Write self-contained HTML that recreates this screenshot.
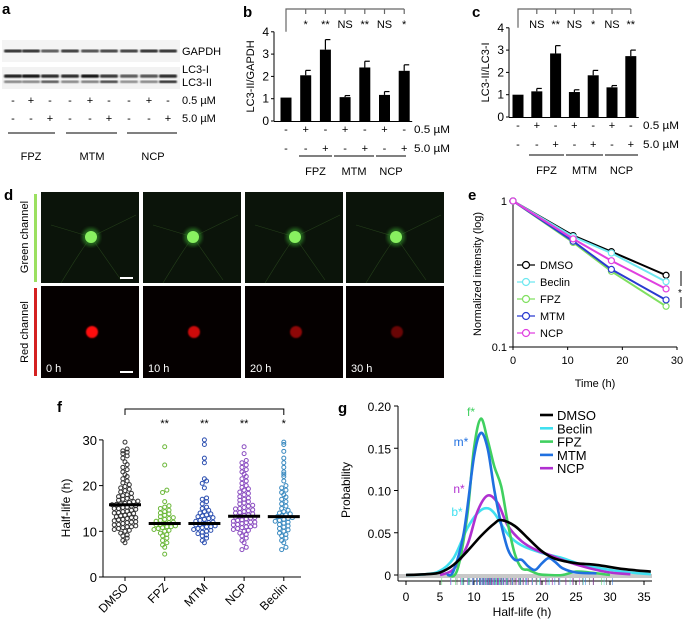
<!DOCTYPE html>
<html><head><meta charset="utf-8"><style>
html,body{margin:0;padding:0;background:#fff}
svg{display:block;font-family:"Liberation Sans Narrow","Liberation Sans",sans-serif}
</style></head><body>
<svg id="fig" width="685" height="621" viewBox="0 0 685 621" xmlns="http://www.w3.org/2000/svg">
<defs>
<filter id="blur1"><feGaussianBlur stdDeviation="0.8"/></filter>
<filter id="blur2"><feGaussianBlur stdDeviation="1.6"/></filter>
</defs>
<g id="pa"></g>
<g id="pb"></g>
<g id="pc"></g>
<g id="pd"></g>
<g id="pe"></g>
<g id="pf"></g>
<g id="pg"></g>
</svg>
<script>
// ---------- data ----------
const bValues=[1.05,2.05,3.2,1.07,2.4,1.17,2.25];
const bErrors=[0,0.22,0.45,0.07,0.28,0.15,0.27];
const bStars=["*","**","NS","**","NS","*"];
const cValues=[1.0,1.15,2.85,1.12,1.87,1.33,2.73];
const cErrors=[0,0.13,0.35,0.1,0.22,0.08,0.27];
const cStars=["NS","**","NS","*","NS","**"];
const signsLow=["-","+","-","+","-","+","-"];
const signsHigh=["-","-","+","-","+","-","+"];
const barTicks=[0,1,2,3,4];
const eTimes=[0,11,18,28];
const eNames=["DMSO","Beclin","FPZ","MTM","NCP"];
const eDMSO=[1,0.58,0.45,0.31];
const eBeclin=[1,0.57,0.44,0.28];
const eFPZ=[1,0.52,0.33,0.19];
const eMTM=[1,0.53,0.34,0.21];
const eNCP=[1,0.55,0.39,0.25];
const eXTicks=[0,10,20,30];
const fCats=["DMSO","FPZ","MTM","NCP","Beclin"];
const fStars=["**","**","**","*"];
const fMedians=[15.8,11.7,11.7,13.3,13.2];
const fTicks=[0,10,20,30];
const fDMSO=[7.5,8,8.5,9,9.2,9.6,10,10.2,10.4,10.6,10.8,11,11,11.2,11.4,11.5,11.7,11.9,12,12.1,12.3,12.5,12.6,12.8,13,13,13.2,13.4,13.5,13.7,13.9,14,14.1,14.3,14.4,14.6,14.8,15,15,15.2,15.3,15.5,15.6,15.8,15.9,16,16.1,16.3,16.5,16.6,16.8,17,17.2,17.4,17.6,17.8,18,18.3,18.6,18.9,19.2,19.5,19.8,20.2,20.6,21,21.5,22,22.4,23,23.5,24,24.6,25.2,26,26.5,27,27.3,27.6,28,29.5];
const fFPZ=[5,6.5,7,7.5,8,8.5,9,9.3,9.6,10,10.2,10.4,10.6,10.8,11,11,11.2,11.4,11.5,11.7,11.9,12,12.2,12.4,12.6,12.8,13,13.2,13.5,13.8,14,14.3,14.6,15,15.3,15.6,16.5,18.5,19,24.5,28.5];
const fMTM=[7.5,8,8.5,9,9.2,9.5,9.8,10,10.2,10.4,10.6,10.8,11,11,11.2,11.4,11.5,11.7,11.9,12,12.2,12.4,12.6,12.8,13,13.2,13.4,13.6,13.8,14,14.3,14.6,15,15.3,16,16.5,17,17.3,19.5,20.5,21,21.5,25,26,29,30];
const fNCP=[6,6.5,7.5,8,8.5,9,9.3,9.6,10,10.2,10.4,10.6,10.8,11,11,11.2,11.4,11.5,11.7,11.9,12,12,12.2,12.4,12.5,12.7,12.9,13,13.1,13.3,13.5,13.6,13.8,14,14.1,14.3,14.5,14.7,14.9,15,15.2,15.5,15.7,16,16.2,16.5,16.8,17,17.3,17.6,18,18.3,18.6,19,19.3,19.6,20,20.5,21,21.5,22,22.5,23,23.5,24,24.5,25,25.5,27,28.5];
const fBeclin=[6,6.5,7.5,8,8.5,9,9.3,9.6,10,10.3,10.6,10.9,11.2,11.5,11.8,12,12.2,12.4,12.6,12.8,13,13.2,13.4,13.6,13.8,14,14.3,14.6,15,15.5,16,16.5,17,17.5,18,18.5,19,19.5,20,21,22,22.5,23,24,25,26,27.5,29,29.5];
const gNames=["DMSO","Beclin","FPZ","MTM","NCP"];
const gXTicks=[0,5,10,15,20,25,30,35];
const gYTicks=["0","0.05","0.10","0.15","0.20"];
const gDMSOx=[0,3,5,7,9,11,13,14,16,18,20,22,25,28,32,36];
const gDMSOy=[0,0.001,0.003,0.012,0.028,0.046,0.061,0.065,0.058,0.043,0.028,0.019,0.014,0.012,0.007,0.004];
const gBeclinx=[0,3,5,7,9,10.5,11.8,13,15,17,20,23,26,30,33,36];
const gBecliny=[0,0.001,0.005,0.02,0.055,0.073,0.079,0.073,0.048,0.035,0.026,0.02,0.012,0.006,0.003,0.001];
const gFPZx=[6,7.5,9,10,11,12,13,14,15,16,17,18,19.5,21,23,25,27,30];
const gFPZy=[0,0.005,0.07,0.15,0.185,0.16,0.128,0.105,0.06,0.025,0.008,0.006,0.001,0,0,0.004,0.003,0];
const gMTMx=[6,7,8.5,10,11,12,13,14,15,16,17,18,19,20,21,22,23,25,28];
const gMTMy=[0,0.005,0.05,0.14,0.168,0.15,0.1,0.06,0.03,0.018,0.018,0.01,0.006,0.014,0.02,0.015,0.008,0.003,0.002];
const gNCPx=[5,7,9,10.5,12,13.5,15,17,19,21,24,27,30,33];
const gNCPy=[0,0.007,0.035,0.075,0.094,0.085,0.058,0.04,0.03,0.024,0.015,0.008,0.003,0.001];

// ---------- helpers ----------
const NS="http://www.w3.org/2000/svg";
function mk(parent,tag,attrs,txt){const e=document.createElementNS(NS,tag);for(const k in attrs)e.setAttribute(k,attrs[k]);if(txt!==undefined)e.textContent=txt;parent.appendChild(e);return e;}
function smooth(pts){let d="M"+pts[0][0]+","+pts[0][1];for(let i=0;i<pts.length-1;i++){const p0=pts[Math.max(0,i-1)],p1=pts[i],p2=pts[i+1],p3=pts[Math.min(pts.length-1,i+2)];const c1=[p1[0]+(p2[0]-p0[0])/6,p1[1]+(p2[1]-p0[1])/6],c2=[p2[0]-(p3[0]-p1[0])/6,p2[1]-(p3[1]-p1[1])/6];d+=" C"+c1[0].toFixed(1)+","+c1[1].toFixed(1)+" "+c2[0].toFixed(1)+","+c2[1].toFixed(1)+" "+p2[0].toFixed(1)+","+p2[1].toFixed(1);}return d;}
const FS=11;

// ---------- panel a ----------
(function(){const g=document.getElementById('pa');
let t=mk(g,'text',{x:2,y:14,'font-size':15,'font-weight':'bold','font-family':'Liberation Sans'},'a');


const lanes=[13,31,50,70,90,109,129,149,168];
const gap=[1,1,0.6,0.9,0.7,0.8,0.85,1,1];
const l1=[1,1.1,0.9,0.9,1.1,0.8,0.5,0.55,0.9];
const l2=[0.4,0.4,0.7,0.4,0.45,0.8,0.35,0.4,0.95];
mk(g,'rect',{x:2,y:40,width:178,height:22,fill:'#f4f4f4'});
mk(g,'rect',{x:2,y:67,width:178,height:22,fill:'#f2f2f2'});
lanes.forEach((x,i)=>{
 let b=mk(g,'rect',{x:x-9,y:49.5,width:18,height:3,rx:1.5,fill:'#222',opacity:0.45+0.5*gap[i],filter:'url(#blur1)'});
 
 
 let c=mk(g,'rect',{x:x-9,y:74.5,width:18,height:3.2,rx:1.5,fill:'#111',opacity:Math.min(1,0.4+0.55*l1[i]),filter:'url(#blur1)'});
 
 
 let d=mk(g,'rect',{x:x-9,y:80.5,width:18,height:2.6,rx:1.3,fill:'#111',opacity:0.2+0.7*l2[i],filter:'url(#blur1)'});
 
 
 const lo=["-","+","-","-","+","-","-","+","-"][i],hi=["-","-","+","-","-","+","-","-","+"][i];
 mk(g,'text',{x:x,y:104,'font-size':FS,'text-anchor':'middle'},lo);
 mk(g,'text',{x:x,y:122,'font-size':FS,'text-anchor':'middle'},hi);
});
[["GAPDH",55],["LC3-I",73],["LC3-II",86]].forEach(a=>{let e=mk(g,'text',{x:182,y:a[1],'font-size':FS},a[0]);});
mk(g,'text',{x:182,y:104,'font-size':FS},'0.5 µM');
mk(g,'text',{x:182,y:122,'font-size':FS},'5.0 µM');
[[8,55,31,'FPZ'],[66,117,92,'MTM'],[127,177,153,'NCP']].forEach(a=>{mk(g,'line',{x1:a[0],x2:a[1],y1:133,y2:133,stroke:'#000','stroke-width':1});let e=mk(g,'text',{x:a[2],y:160,'font-size':FS,'text-anchor':'middle'},a[3]);});
})();

// ---------- panels b & c ----------
function barPanel(id,lab,labX,axX,y0,unit,x0,step,vals,errs,stars,ytitle,sigX,groups,labs){
 const g=document.getElementById(id);
 const ys=v=>y0-v*unit, xs=i=>x0+i*step;
 let t=mk(g,'text',{x:labX,y:17,'font-size':15,'font-weight':'bold','font-family':'Liberation Sans'},lab);
 
 
 let ax=mk(g,'line',{x1:axX,x2:axX,y1:ys(4),y2:y0,stroke:'#000'});
 
 
 mk(g,'line',{x1:axX,x2:xs(6)+8,y1:y0+0.5,y2:y0+0.5,stroke:'#000'});
 barTicks.forEach(v=>{mk(g,'line',{x1:axX-3,x2:axX,y1:ys(v),y2:ys(v),stroke:'#000'});let e=mk(g,'text',{x:axX-5,y:ys(v)+4,'font-size':12,'text-anchor':'end'},String(v));});
 let yt=mk(g,'text',{x:0,y:0,'font-size':FS,'text-anchor':'middle',transform:'translate('+(axX-20)+','+((ys(2)))+') rotate(-90)'},ytitle);
 
 
 vals.forEach((v,i)=>{
  let b=mk(g,'rect',{x:xs(i)-5.5,y:ys(v),width:11,height:y0-ys(v),fill:'#000'});
  
  
  if(errs[i]>0){mk(g,'line',{x1:xs(i),x2:xs(i),y1:ys(v),y2:ys(v+errs[i]),stroke:'#000','stroke-width':1.2});mk(g,'line',{x1:xs(i),x2:xs(i)+5,y1:ys(v+errs[i]),y2:ys(v+errs[i]),stroke:'#000','stroke-width':1.2});}
  mk(g,'text',{x:xs(i),y:y0+12,'font-size':FS,'text-anchor':'middle'},signsLow[i]);
  mk(g,'text',{x:xs(i),y:y0+31,'font-size':FS,'text-anchor':'middle'},signsHigh[i]);
 });
 mk(g,'text',{x:sigX,y:y0+12,'font-size':FS,textLength:36,lengthAdjust:'spacingAndGlyphs'},'0.5 µM');
 mk(g,'text',{x:sigX,y:y0+31,'font-size':FS,textLength:36,lengthAdjust:'spacingAndGlyphs'},'5.0 µM');
 const by=9;
 mk(g,'path',{d:'M'+xs(0)+','+ys(4)+' V'+by+' H'+xs(6),fill:'none',stroke:'#666','stroke-width':1.2});
 stars.forEach((s,i)=>{mk(g,'line',{x1:xs(i+1),x2:xs(i+1),y1:by,y2:by+5,stroke:'#666','stroke-width':1.2});let e=mk(g,'text',{x:xs(i+1),y:28,'font-size':FS,'text-anchor':'middle'},s);});
 groups.forEach((gr,i)=>{mk(g,'line',{x1:gr[0],x2:gr[1],y1:gr[2],y2:gr[2],stroke:'#000'});let e=mk(g,'text',{x:(gr[0]+gr[1])/2,y:gr[2]+19,'font-size':FS,'text-anchor':'middle'},labs[i]);});
}
barPanel('pb','b',243,274,121,22.3,286,19.7,bValues,bErrors,bStars,'LC3-II/GAPDH',414,[[299,332,156],[334,374,156],[376,406,156]],['FPZ','MTM','NCP']);
barPanel('pc','c',472,509,117,22.3,518,18.8,cValues,cErrors,cStars,'LC3-II/LC3-I',643,[[529,564,155],[566,603,155],[605,638,155]],['FPZ','MTM','NCP']);

// ---------- panel d ----------
(function(){const g=document.getElementById('pd');
let t=mk(g,'text',{x:4,y:200,'font-size':15,'font-weight':'bold','font-family':'Liberation Sans'},'d');


mk(g,'rect',{x:34,y:194,width:3,height:88,fill:'#9be060'});
mk(g,'rect',{x:34,y:288,width:3,height:88,fill:'#d42020'});
mk(g,'text',{x:0,y:0,'font-size':FS,'text-anchor':'middle',transform:'translate(28,237) rotate(-90)'},'Green channel');
mk(g,'text',{x:0,y:0,'font-size':FS,'text-anchor':'middle',transform:'translate(28,332) rotate(-90)'},'Red channel');
const cols=[41,143,245,346];const times=['0 h','10 h','20 h','30 h'];const redI=[1,0.8,0.55,0.4];
cols.forEach((x,i)=>{
 let a=mk(g,'rect',{x:x,y:192,width:98,height:91,fill:'#0b140a'});
 
 
 mk(g,'path',{d:`M${x+20},${283} Q${x+40},250 ${x+50},237 M${x+50},237 L${x+95},215 M${x+50},237 L${x+80},280 M${x+50},237 L${x+10},225`,stroke:'#3d6a2a','stroke-width':0.6,fill:'none',opacity:0.5});
 mk(g,'circle',{cx:x+50,cy:237,r:9,fill:'#3cb030',opacity:0.5,filter:'url(#blur2)'});
 mk(g,'circle',{cx:x+50,cy:237,r:6,fill:'#88f060'});
 let r=mk(g,'rect',{x:x,y:286,width:98,height:92,fill:'#050000'});
 
 
 mk(g,'circle',{cx:x+51,cy:332,r:6,fill:'#ff1010',opacity:redI[i],filter:'url(#blur1)'});
 let tl=mk(g,'text',{x:x+5,y:372,'font-size':FS,fill:'#fff'},times[i]);
 
 
});
mk(g,'rect',{x:120,y:277,width:13,height:2,fill:'#fff'});
mk(g,'rect',{x:120,y:371,width:13,height:2,fill:'#fff'});
})();

// ---------- panel e ----------
(function(){const g=document.getElementById('pe');
const xe=t=>513+t*164/30, ye=v=>201-Math.log10(v)*146;
let t=mk(g,'text',{x:468,y:200,'font-size':15,'font-weight':'bold','font-family':'Liberation Sans'},'e');


mk(g,'line',{x1:513,x2:513,y1:ye(1),y2:ye(0.1),stroke:'#000'});
mk(g,'line',{x1:513,x2:677,y1:ye(0.1),y2:ye(0.1),stroke:'#000'});
[1,0.1].forEach(v=>{mk(g,'line',{x1:509,x2:513,y1:ye(v),y2:ye(v),stroke:'#000'});mk(g,'text',{x:507,y:ye(v)+4,'font-size':FS,'text-anchor':'end'},String(v));});
eXTicks.forEach(v=>{mk(g,'line',{x1:xe(v),x2:xe(v),y1:ye(0.1),y2:ye(0.1)+3,stroke:'#000'});let e=mk(g,'text',{x:xe(v),y:364,'font-size':FS,'text-anchor':'middle'},String(v));});
let xt=mk(g,'text',{x:595,y:387,'font-size':FS,'text-anchor':'middle'},'Time (h)');


let yt=mk(g,'text',{x:0,y:0,'font-size':FS,'text-anchor':'middle',transform:'translate(481,274) rotate(-90)'},'Normalized intensity (log)');


const series=[eDMSO,eBeclin,eFPZ,eMTM,eNCP];const cols=['#000','#6ee8f0','#80e060','#2a3ad0','#e040e0'];
series.forEach((s,k)=>{
 let p=mk(g,'polyline',{points:s.map((v,i)=>xe(eTimes[i])+','+ye(v)).join(' '),fill:'none',stroke:cols[k],'stroke-width':2});
 
 
 s.forEach((v,i)=>{let c=mk(g,'circle',{cx:xe(eTimes[i]),cy:ye(v),r:3,fill:'#fff',stroke:cols[k],'stroke-width':1.2});});
 const ly=265+k*17;
 mk(g,'line',{x1:517,x2:535,y1:ly,y2:ly,stroke:cols[k],'stroke-width':1.2});
 mk(g,'circle',{cx:526,cy:ly,r:3.5,fill:'#fff',stroke:cols[k],'stroke-width':1.2});
 let lt=mk(g,'text',{x:540,y:ly+4,'font-size':FS},eNames[k]);
 
 
});
mk(g,'line',{x1:681,x2:681,y1:271,y2:286,stroke:'#000'});
mk(g,'line',{x1:681,x2:681,y1:297,y2:308,stroke:'#000'});
mk(g,'text',{x:678,y:296,'font-size':10},'*');
})();

// ---------- panel f ----------
(function(){const g=document.getElementById('pf');
const yf=v=>577-v*4.57, xf=i=>125+i*39.7;
let t=mk(g,'text',{x:57,y:412,'font-size':15,'font-weight':'bold','font-family':'Liberation Sans'},'f');


mk(g,'line',{x1:103,x2:103,y1:yf(30),y2:577,stroke:'#000'});
mk(g,'line',{x1:103,x2:301,y1:577,y2:577,stroke:'#000'});
fTicks.forEach(v=>{mk(g,'line',{x1:99,x2:103,y1:yf(v),y2:yf(v),stroke:'#000'});let e=mk(g,'text',{x:97,y:yf(v)+5,'font-size':13,'text-anchor':'end'},String(v));});
let yt=mk(g,'text',{x:0,y:0,'font-size':12,'text-anchor':'middle',transform:'translate(70,508) rotate(-90)'},'Half-life (h)');


mk(g,'path',{d:'M'+xf(0)+',415 V409 H'+xf(4)+' V415',fill:'none',stroke:'#000'});
fStars.forEach((s,i)=>{mk(g,'text',{x:xf(i+1),y:427,'font-size':11,'text-anchor':'middle'},s);});
const groups=[fDMSO,fFPZ,fMTM,fNCP,fBeclin];const cols=['#333','#6cb83a','#2c4fb0','#8a4dc0','#3a8ac0'];
groups.forEach((arr,k)=>{
 const bins={};arr.forEach(v=>{const b=Math.round(v/0.9);(bins[b]=bins[b]||[]).push(v);});
 for(const b in bins){const list=bins[b];list.forEach((v,j)=>{const off=(j-(list.length-1)/2)*4.3;let c=mk(g,'circle',{cx:xf(k)+off,cy:yf(v),r:2,fill:'none',stroke:cols[k],'stroke-width':1});});}
 let m=mk(g,'line',{x1:xf(k)-16,x2:xf(k)+16,y1:yf(fMedians[k]),y2:yf(fMedians[k]),stroke:'#000','stroke-width':3});
 
 
 mk(g,'line',{x1:xf(k),x2:xf(k),y1:577,y2:581,stroke:'#000'});
 let l=mk(g,'text',{x:0,y:0,'font-size':12,'text-anchor':'end',transform:'translate('+(xf(k)+4)+',588) rotate(-45)'},fCats[k]);
 
 
});
})();

// ---------- panel g ----------
(function(){const g=document.getElementById('pg');
const xg=h=>406+h*6.8, yg=p=>575-p*845;
let t=mk(g,'text',{x:338,y:413,'font-size':15,'font-weight':'bold','font-family':'Liberation Sans'},'g');


mk(g,'line',{x1:398,x2:398,y1:yg(0.2),y2:581,stroke:'#000'});
mk(g,'line',{x1:398,x2:652,y1:581,y2:581,stroke:'#000'});
gYTicks.forEach(s=>{const v=parseFloat(s);mk(g,'line',{x1:394,x2:398,y1:yg(v),y2:yg(v),stroke:'#000'});let e=mk(g,'text',{x:391,y:yg(v)+5,'font-size':12,'text-anchor':'end'},s);});
gXTicks.forEach(v=>{mk(g,'line',{x1:xg(v),x2:xg(v),y1:581,y2:585,stroke:'#000'});let e=mk(g,'text',{x:xg(v),y:601,'font-size':12,'text-anchor':'middle'},String(v));});
let xt=mk(g,'text',{x:522,y:616,'font-size':12,'text-anchor':'middle'},'Half-life (h)');


let yt=mk(g,'text',{x:0,y:0,'font-size':12,'text-anchor':'middle',transform:'translate(350,490) rotate(-90)'},'Probability');


mk(g,'rect',{x:399,y:574,width:253,height:4,fill:'#c8c8c8'});
const rugSets=[fDMSO,fBeclin,fFPZ,fMTM,fNCP];const rugCols=['#444','#40e0e8','#40d060','#2070e0','#b030d0'];
rugSets.forEach((arr,k)=>arr.forEach((v,i)=>{if(i%2===k%2){let r=mk(g,'line',{x1:xg(v+k*0.13),x2:xg(v+k*0.13),y1:578,y2:585,stroke:rugCols[k],'stroke-width':0.6,opacity:0.8});}}));
const cx=[gDMSOx,gBeclinx,gFPZx,gMTMx,gNCPx],cy=[gDMSOy,gBecliny,gFPZy,gMTMy,gNCPy];
const cols=['#000','#40e0f0','#40d060','#2070e0','#b030d0'];
const order=[1,4,2,3,0];
order.forEach(k=>{
 let p=mk(g,'path',{d:smooth(cx[k].map((h,i)=>[xg(h),yg(cy[k][i])])),fill:'none',stroke:cols[k],'stroke-width':2.6});
 
 
});
gNames.forEach((n,k)=>{const ly=415+k*13.3;mk(g,'line',{x1:540,x2:553,y1:ly,y2:ly,stroke:cols[k],'stroke-width':2.6});let e=mk(g,'text',{x:557,y:ly+5,'font-size':13},n);});
[['f*',471,416,'#40d060'],['m*',461,446,'#2070e0'],['n*',459,493,'#b030d0'],['b*',457,516,'#40e0f0']].forEach(a=>{let e=mk(g,'text',{x:a[1],y:a[2],'font-size':12,fill:a[3],'text-anchor':'middle'},a[0]);});
})();
</script>
</body></html>
